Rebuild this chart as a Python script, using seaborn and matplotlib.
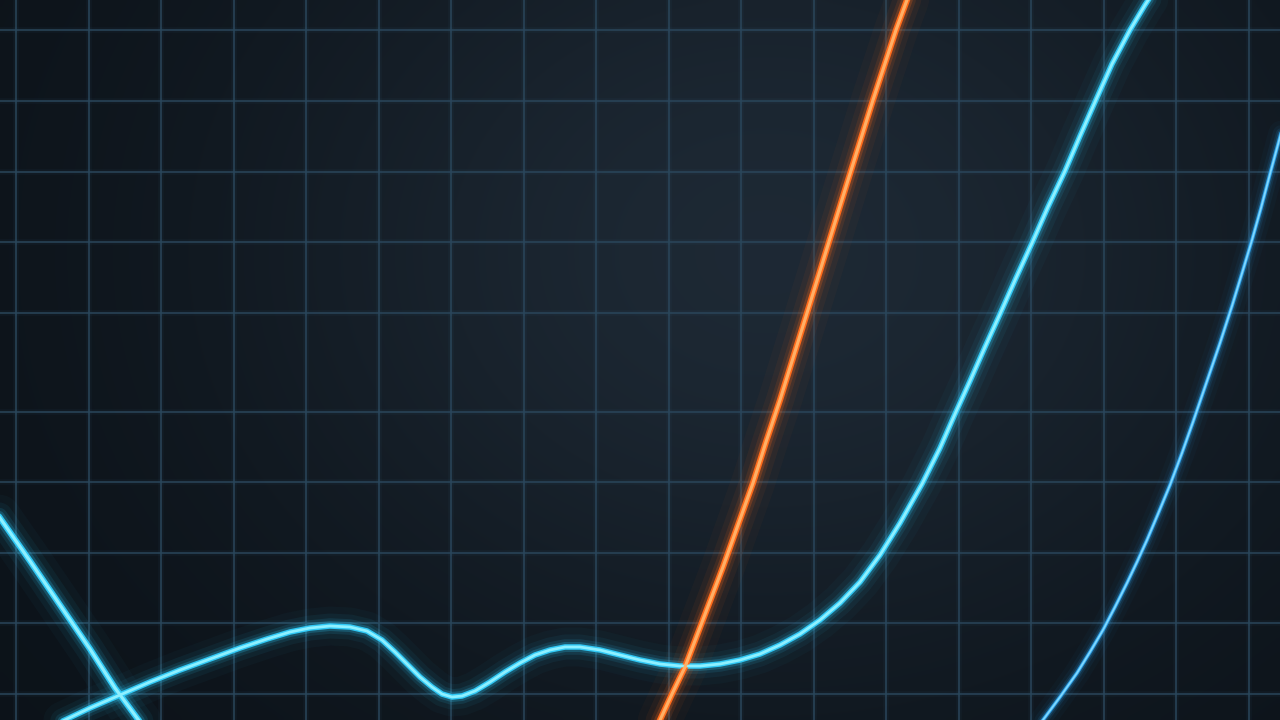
"""Glowing oscilloscope-style line chart on a dark grid"""
import numpy as np
import pandas as pd
import seaborn as sns
import matplotlib.pyplot as plt

# grid positions (horizontal axis spacing is regular, vertical has a gap)
grid_x = [16 + 72.5 * k for k in range(18)]
grid_y = [30, 101, 172, 242, 313, 412, 482, 553, 623, 694]

# main wavy cyan trace
wave_x = [50, 67, 90, 120, 150, 180, 210, 240, 267, 290, 310, 330, 350, 367, 382,
          395, 408, 420, 432, 442, 452, 462, 475, 490, 505, 520, 535, 550, 565, 580,
          600, 620, 640, 660, 680, 700, 720, 740, 760, 780, 800, 820, 840, 860, 880,
          900, 922, 940, 955, 970, 985, 1000, 1016, 1032, 1048, 1065, 1080, 1095,
          1112, 1130, 1145, 1160]
wave_y = [727, 719, 708, 695, 682, 670, 659, 648, 639, 632, 628, 626, 627, 631, 640,
          652, 665, 677, 687, 694, 697, 696, 691, 682, 672, 663, 655, 650, 647, 647,
          650, 655, 660, 664, 666, 666, 664, 660, 654, 645, 634, 620, 603, 582, 555,
          523, 484, 448, 414, 381, 347, 314, 278, 243, 207, 171, 136, 102,
          64, 30, 5, -18]

# descending cyan trace at the left edge
drop_x = [-10, 0, 30, 60, 90, 115, 140, 150]
drop_y = [503, 518, 561, 605, 649, 688, 722, 737]

# thin cyan trace on the right
thin_x = [1035, 1043, 1060, 1077, 1090, 1103, 1115, 1127, 1137, 1147, 1158, 1170,
          1182, 1193, 1206, 1220, 1232, 1243, 1252, 1261, 1270, 1280, 1290]
thin_y = [732, 720, 697, 673, 652, 630, 607, 583, 562, 540, 514, 485,
          453, 422, 384, 343, 306, 270, 240, 208, 174, 137, 100]

# orange trace
orange_x = [655, 660, 672, 685, 704, 723, 738, 753, 766, 780, 807, 828, 849, 873, 896, 907, 912]
orange_y = [732, 720, 694, 667, 617, 567, 525, 483, 442, 400, 313, 245, 177, 100, 30, 0, -15]

sns.set_theme(style="dark")
fig = plt.figure(figsize=(12.8, 7.2), dpi=100)
ax = fig.add_axes([0, 0, 1, 1])

# background: dark navy with a softly lit centre
gx, gy = np.meshgrid(np.linspace(0, 1, 256), np.linspace(0, 1, 144))
light = np.exp(-(((gx - 0.6) / 0.42) ** 2 + ((gy - 0.35) / 0.6) ** 2))
dark = np.array([0.045, 0.07, 0.095])
lit = np.array([0.115, 0.16, 0.205])
bg = dark + (lit - dark) * light[..., None]
ax.imshow(bg, extent=(0, 1280, 720, 0), aspect='auto', zorder=0, interpolation='bicubic')

for x in grid_x:
    ax.axvline(x, color='#3a6a8a', lw=4, alpha=0.07, zorder=1)
    ax.axvline(x, color='#2a465b', lw=1.2, alpha=0.9, zorder=1)
for y in grid_y:
    ax.axhline(y, color='#3a6a8a', lw=4, alpha=0.07, zorder=1)
    ax.axhline(y, color='#2a465b', lw=1.2, alpha=0.9, zorder=1)


def glow_line(xs, ys, core, glow, width):
    df = pd.DataFrame({'x': xs, 'y': ys})
    for mult, alpha in [(7, 0.03), (4.5, 0.06), (2.8, 0.11), (1.8, 0.22)]:
        sns.lineplot(data=df, x='x', y='y', sort=False, ax=ax, color=glow,
                     lw=width * mult, alpha=alpha, zorder=2, solid_capstyle='round',
                     solid_joinstyle='round')
    sns.lineplot(data=df, x='x', y='y', sort=False, ax=ax, color=glow,
                 lw=width, zorder=3, solid_capstyle='round', solid_joinstyle='round')
    sns.lineplot(data=df, x='x', y='y', sort=False, ax=ax, color=core,
                 lw=width * 0.5, zorder=4, solid_capstyle='round', solid_joinstyle='round')


glow_line(wave_x, wave_y, '#8ef0ff', '#2fc8f5', 4.0)
glow_line(drop_x, drop_y, '#8ef0ff', '#2fc8f5', 4.5)
glow_line(thin_x, thin_y, '#7fd8ff', '#2a9fe8', 2.6)
glow_line(orange_x, orange_y, '#ffb066', '#ff6a1a', 4.5)

ax.set_xlim(0, 1280)
ax.set_ylim(720, 0)
ax.set_xticks([])
ax.set_yticks([])
ax.set_xlabel('')
ax.set_ylabel('')
for s in ax.spines.values():
    s.set_visible(False)

plt.savefig('out.png', dpi=100)
plt.close()
